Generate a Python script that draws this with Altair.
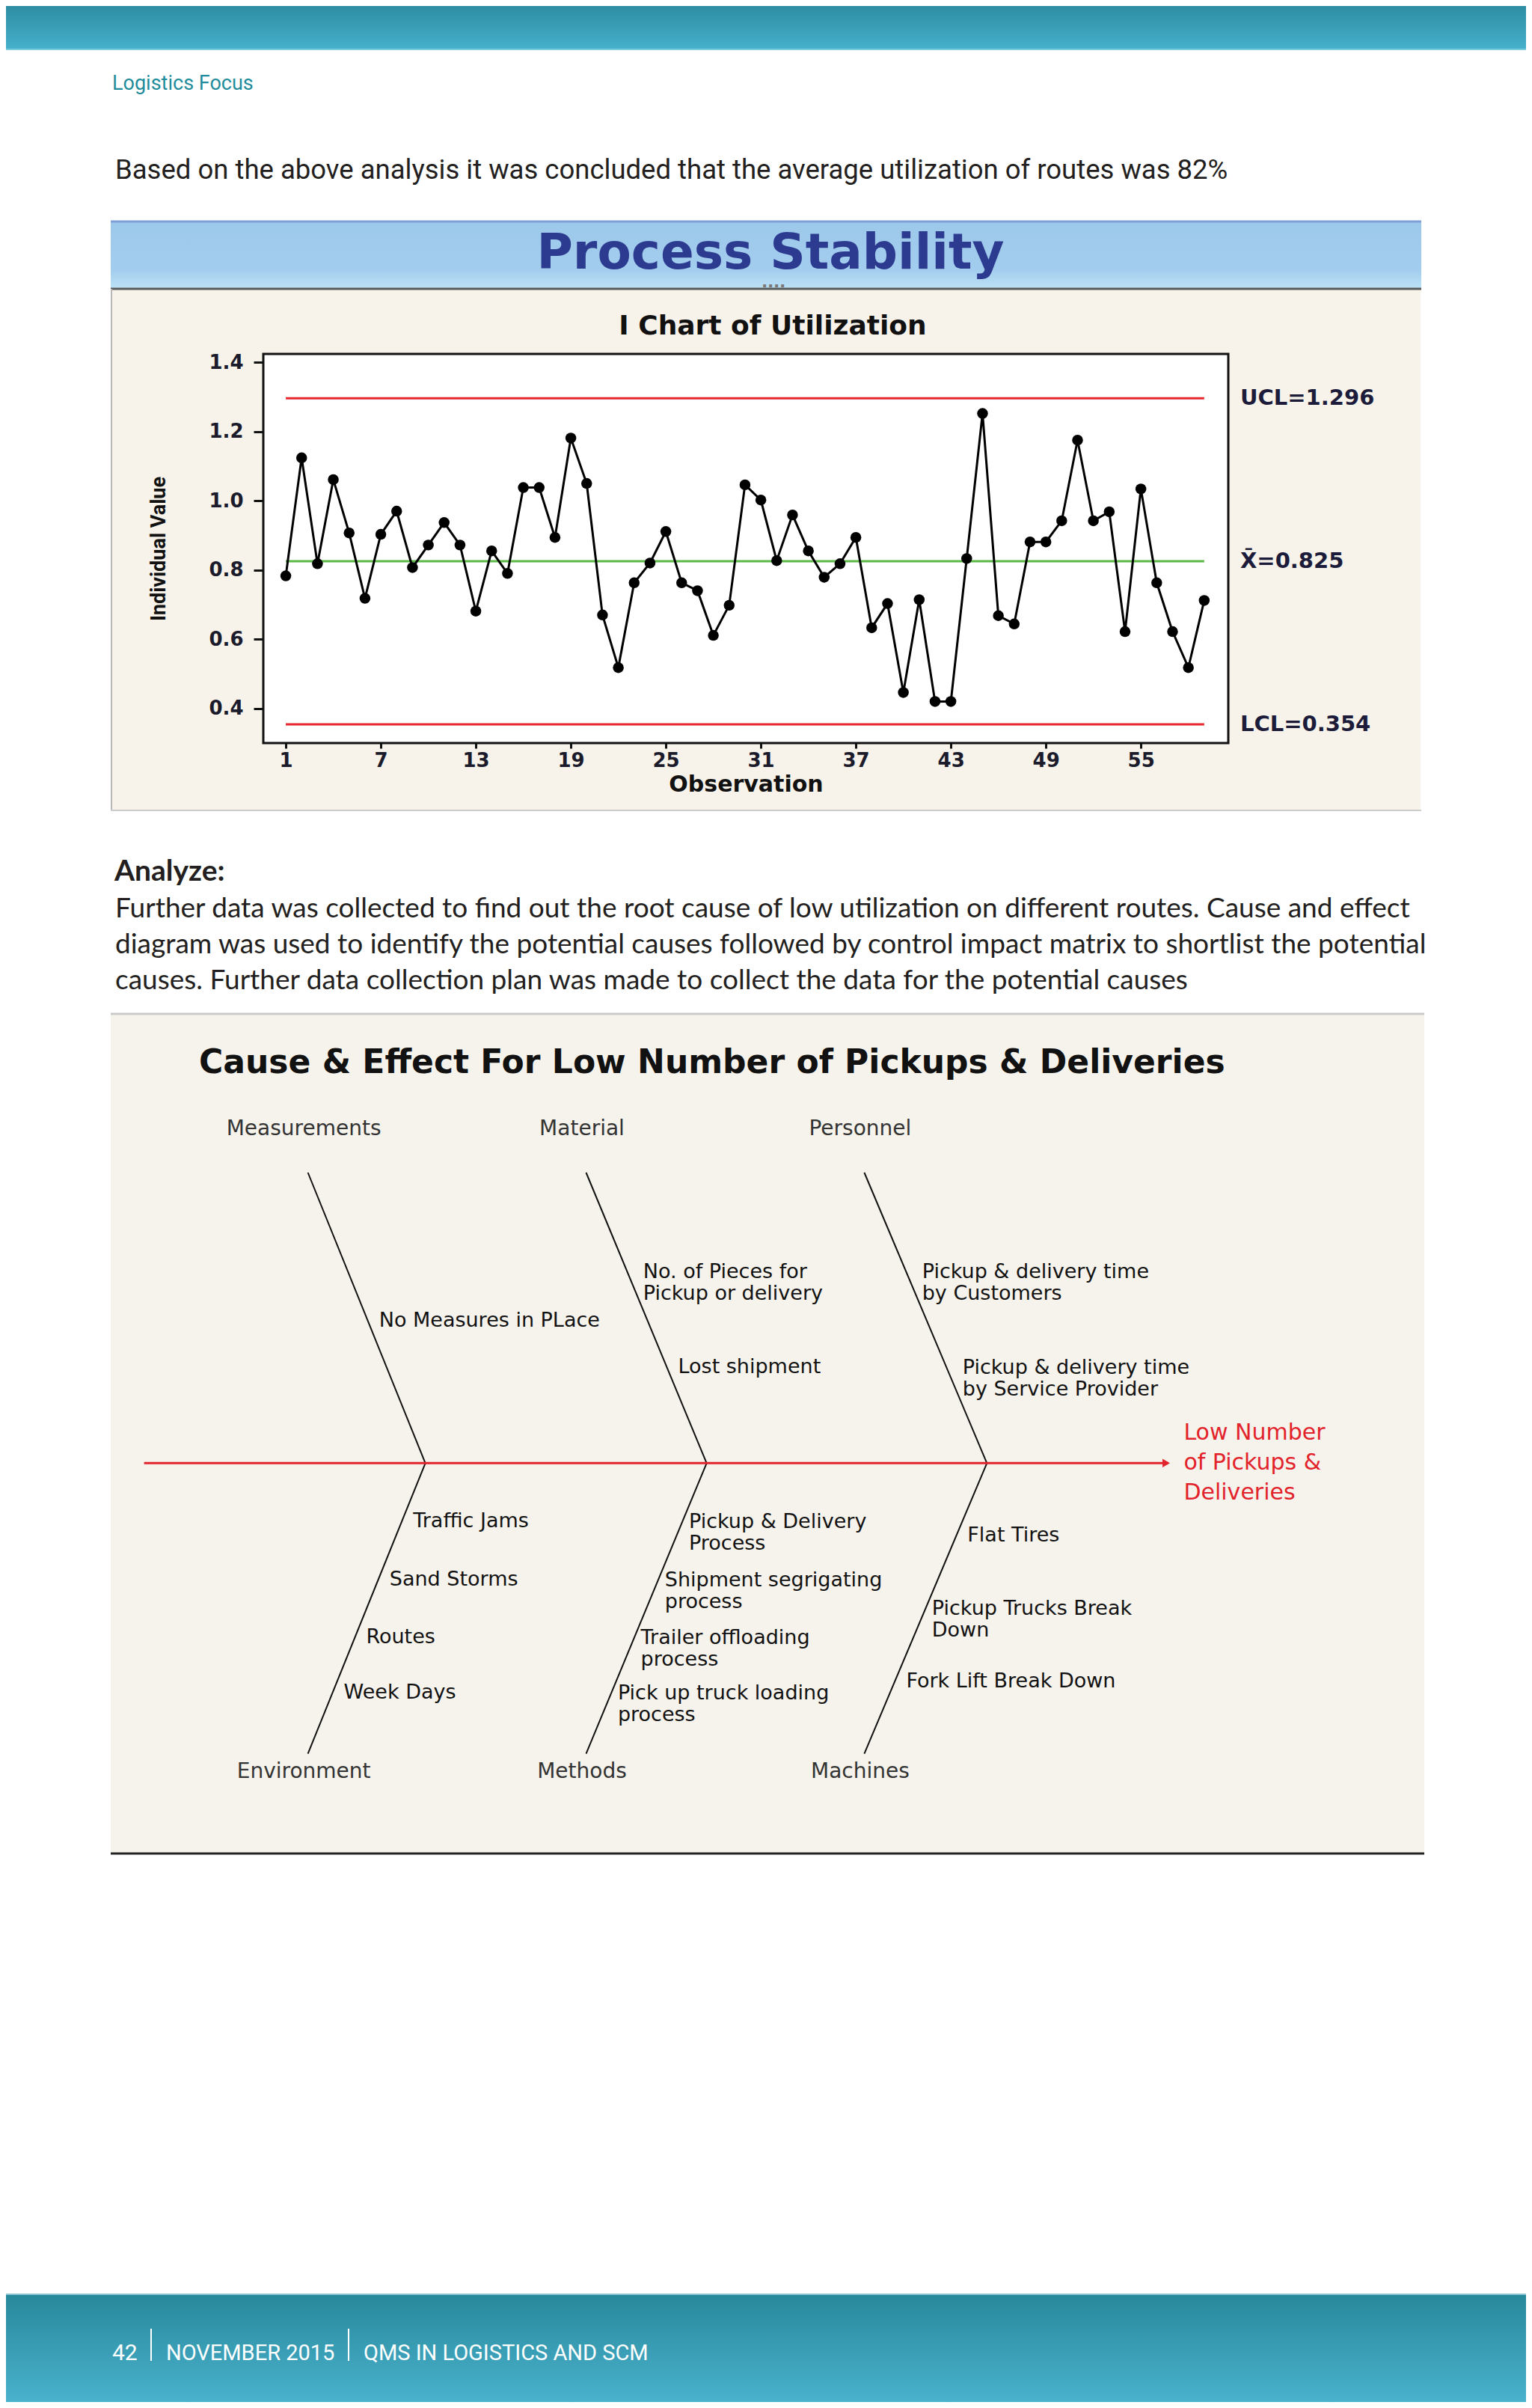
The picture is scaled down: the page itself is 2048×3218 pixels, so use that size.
import altair as alt
import pandas as pd

# ---------------- chart data ----------------
observation = list(range(1, 60))
utilization = [0.783, 1.124, 0.818, 1.061, 0.907, 0.718, 0.903, 0.970, 0.807, 0.872,
               0.937, 0.872, 0.681, 0.855, 0.790, 1.038, 1.038, 0.894, 1.181, 1.050,
               0.670, 0.518, 0.763, 0.820, 0.911, 0.763, 0.740, 0.611, 0.698, 1.046,
               1.002, 0.827, 0.959, 0.855, 0.779, 0.818, 0.894, 0.633, 0.703, 0.446,
               0.714, 0.420, 0.420, 0.833, 1.252, 0.668, 0.644, 0.881, 0.881, 0.942,
               1.175, 0.942, 0.968, 0.622, 1.034, 0.763, 0.622, 0.518, 0.712]
x_tick_values = [1, 7, 13, 19, 25, 31, 37, 43, 49, 55]
y_tick_values = [0.4, 0.6, 0.8, 1.0, 1.2, 1.4]
limit_labels = ["UCL=1.296", "X\u0304=0.825", "LCL=0.354"]
limit_values = [1.296, 0.825, 0.354]
limit_kind = ["control", "center", "control"]
x_domain = [-0.42, 60.52]
y_domain = [0.30, 1.424]

fish_top = ["Measurements", "Material", "Personnel"]
fish_bottom = ["Environment", "Methods", "Machines"]
causes = {
    "Measurements": ["No Measures in PLace"],
    "Material": ["No. of Pieces for\nPickup or delivery", "Lost shipment"],
    "Personnel": ["Pickup & delivery time\nby Customers",
                  "Pickup & delivery time\nby Service Provider"],
    "Environment": ["Traffic Jams", "Sand Storms", "Routes", "Week Days"],
    "Methods": ["Pickup & Delivery\nProcess", "Shipment segrigating\nprocess",
                "Trailer offloading\nprocess", "Pick up truck loading\nprocess"],
    "Machines": ["Flat Tires", "Pickup Trucks Break\nDown", "Fork Lift Break Down"],
}
effect_label = "Low Number\nof Pickups &\nDeliveries"

# ---------------- layout (diagram units / page pixels) ----------------
bone_joint = [27.3, 54.6, 81.8]     # where bones meet the spine (spine runs 0..100)
bone_tip = [15.9, 42.9, 69.9]       # x of the far end of each bone (at y = +/-1)
cause_depth = {
    "Measurements": [0.49],
    "Material": [0.62, 0.33],
    "Personnel": [0.62, 0.29],
    "Environment": [0.20, 0.40, 0.60, 0.79],
    "Methods": [0.24, 0.44, 0.64, 0.83],
    "Machines": [0.25, 0.54, 0.75],
}
PX_PER_UNIT = 388.3   # vertical pixels per diagram unit
CAUSE_LH = 29
EFFECT_LH = 40

W, H = 2032, 3202
M = 8


def P(v):
    return v - M


ONE = pd.DataFrame({"k": [0]})
NARROW = "Roboto, 'Liberation Sans Narrow', sans-serif"
BODY = "Lato, 'Open Sans', sans-serif"
DV = "DejaVu Sans"


def text_at(s, x, y, size, color="#000000", font=DV, weight="normal", align="left",
            baseline="alphabetic", angle=None):
    kw = dict(text=s, fontSize=size, color=color, font=font, fontWeight=weight,
              align=align, baseline=baseline)
    if angle is not None:
        kw["angle"] = angle
    return alt.Chart(ONE).mark_text(**kw).encode(x=alt.value(P(x)), y=alt.value(P(y)))


def box(x1, y1, x2, y2, fill):
    return alt.Chart(ONE).mark_rect(fill=fill, strokeWidth=0).encode(
        x=alt.value(P(x1)), x2=alt.value(P(x2)), y=alt.value(P(y1)), y2=alt.value(P(y2)))


def hrule(x1, x2, y, color, w):
    return alt.Chart(ONE).mark_rule(color=color, strokeWidth=w).encode(
        x=alt.value(P(x1)), x2=alt.value(P(x2)), y=alt.value(P(y)))


def vrule(x, y1, y2, color, w):
    return alt.Chart(ONE).mark_rule(color=color, strokeWidth=w).encode(
        x=alt.value(P(x)), y=alt.value(P(y1)), y2=alt.value(P(y2)))


def vgrad(c1, c2, mid=None):
    stops = [alt.GradientStop(color=c1, offset=0)]
    if mid:
        stops.append(alt.GradientStop(color=mid[0], offset=mid[1]))
    stops.append(alt.GradientStop(color=c2, offset=1))
    return alt.LinearGradient(gradient="linear", stops=stops, x1=0, x2=0, y1=0, y2=1)


layers = []

# header band and page texts
layers.append(box(0, 0, 2048, 66, vgrad("#2a899c", "#46b0cc")))
layers.append(hrule(0, 2048, 66, "#7ccbe0", 2))
layers.append(text_at("Logistics Focus", 150, 120, 27, "#1f8c9c", NARROW))
layers.append(text_at("Based on the above analysis it was concluded that the average utilization of routes was 82%",
                      154, 239, 36.5, "#231f20", NARROW))

# process stability panel
layers.append(box(148, 295, 1900, 386, vgrad("#9cc8ea", "#bce2f6", ("#a3cdee", 0.72))))
layers.append(hrule(148, 1900, 296, "#7f9fd6", 3))
layers.append(box(148, 387, 1899, 1083, "#f7f3ea"))
layers.append(hrule(148, 1900, 386, "#5a5a5a", 3))
layers.append(vrule(149, 386, 1083, "#b8b8b8", 2))
layers.append(hrule(148, 1900, 1083, "#cccccc", 2))
layers.append(text_at("Process Stability", 1030, 359, 66, "#2c3b8f", DV, "bold", "center", "alphabetic"))
layers.append(text_at("\u25aa \u25aa \u25aa \u25aa", 1034, 382, 8, "#7a7a7a", DV, "normal", "center", "middle"))
layers.append(text_at("I Chart of Utilization", 1033, 436, 36, "#111111", DV, "bold", "center", "middle"))

# ---------------- I chart ----------------
XS = alt.Scale(domain=x_domain, range=[P(352), P(1642)], nice=False, zero=False)
YS = alt.Scale(domain=y_domain, range=[P(993), P(473)], nice=False, zero=False)
XAX = alt.Axis(orient="bottom", offset=P(993) - H, values=x_tick_values, title="Observation",
               domain=False, grid=False, tickSize=7, tickWidth=3, tickColor="#111111",
               labelFont=DV, labelFontSize=26, labelFontWeight="bold", labelColor="#1b1b2b",
               labelPadding=3, titleFont=DV, titleFontSize=30, titleFontWeight="bold",
               titleColor="#111111", titleY=55, titleBaseline="middle", zindex=1)
YAX = alt.Axis(orient="left", offset=-P(352), values=y_tick_values, format=".1f",
               title="Individual Value", domain=False, grid=False, tickSize=13, tickWidth=3,
               tickColor="#111111", labelFont=DV, labelFontSize=26, labelFontWeight="bold",
               labelColor="#1b1b2b", labelPadding=14, titleFont="Roboto", titleFontSize=27,
               titleFontWeight="bold", titleColor="#111111", titleX=-140,
               titleBaseline="middle", zindex=1)

frame_df = pd.DataFrame({"obs": [x_domain[0]], "obs2": [x_domain[1]],
                         "val": [y_domain[0]], "val2": [y_domain[1]]})
limits_df = pd.DataFrame({"obs": [observation[0]] * 3, "obs2": [observation[-1]] * 3,
                          "val": limit_values, "label": limit_labels, "kind": limit_kind})
series_df = pd.DataFrame({"obs": observation, "val": utilization})

xe = alt.X("obs:Q", scale=XS, axis=XAX)
ye = alt.Y("val:Q", scale=YS, axis=YAX)

frame = alt.Chart(frame_df).mark_rect(fill="white", stroke="#111111", strokeWidth=3).encode(
    x=xe, x2="obs2:Q", y=ye, y2="val2:Q")
limit_lines = alt.Chart(limits_df).mark_rule(strokeWidth=3).encode(
    x=xe, x2="obs2:Q", y=ye,
    color=alt.Color("kind:N", scale=alt.Scale(domain=["control", "center"],
                                              range=["#e8262c", "#5cb947"]), legend=None))
limit_text = alt.Chart(limits_df).mark_text(align="left", baseline="middle", font=DV,
                                            fontSize=29, fontWeight="bold", color="#1c1c3a").encode(
    x=alt.value(P(1658)), y=ye, text="label:N")
line = alt.Chart(series_df).mark_line(color="#000000", strokeWidth=3).encode(x=xe, y=ye)
pts = alt.Chart(series_df).mark_point(filled=True, color="#000000", size=210, opacity=1).encode(x=xe, y=ye)
ichart = alt.layer(frame, limit_lines, line, pts, limit_text)
layers.append(ichart)

# analyze text
layers.append(text_at("Analyze:", 153, 1177, 39, "#231f20", BODY, "bold"))
para = ["Further data was collected to find out the root cause of low utilization on different routes. Cause and effect",
        "diagram was used to identify the potential causes followed by control impact matrix to shortlist the potential",
        "causes. Further data collection plan was made to collect the data for the potential causes"]
for i, line_txt in enumerate(para):
    layers.append(text_at(line_txt, 154, 1226 + 48 * i, 37, "#231f20", BODY))

# fishbone panel
layers.append(hrule(148, 1904, 1355, "#c9c9c9", 3))
layers.append(box(148, 1357, 1904, 2477, "#f6f3ec"))
layers.append(hrule(148, 1904, 2477, "#222222", 3))
layers.append(text_at("Cause & Effect For Low Number of Pickups & Deliveries", 266, 1434, 44,
                      "#111111", DV, "bold"))

FX = alt.Scale(domain=[0, 100], range=[P(192.6), P(1570)], nice=False, zero=False)
FY = alt.Scale(domain=[-1, 1], range=[P(2343.6), P(1567)], nice=False, zero=False)
fx = alt.X("x:Q", scale=FX, axis=None)
fy = alt.Y("y:Q", scale=FY, axis=None)

bone_rows, cat_rows, cause_rows = [], [], []
for side, names in ((1, fish_top), (-1, fish_bottom)):
    for i, name in enumerate(names):
        bone_rows.append({"x": bone_joint[i], "y": 0, "x2": bone_tip[i], "y2": side})
        cat_rows.append({"x": bone_tip[i] - 0.4, "y": 1.15 if side > 0 else -1.064, "t": name})
        for c, d in zip(causes[name], cause_depth[name]):
            n_lines = c.count("\n") + 1
            lift = (n_lines - 1) * CAUSE_LH / 2 / PX_PER_UNIT
            cause_rows.append({"x": bone_joint[i] - (bone_joint[i] - bone_tip[i]) * d,
                               "y": side * d + lift, "t": c})

effect_lift = (effect_label.count("\n")) * EFFECT_LH / 2 / PX_PER_UNIT

bones = alt.Chart(pd.DataFrame(bone_rows)).mark_rule(color="#111111", strokeWidth=2).encode(
    x=fx, y=fy, x2="x2:Q", y2="y2:Q")
spine = alt.Chart(pd.DataFrame({"x": [0], "y": [0], "x2": [99.4]})).mark_rule(
    color="#e3232b", strokeWidth=3).encode(x=fx, y=fy, x2="x2:Q")
arrow = alt.Chart(pd.DataFrame({"x": [99.2], "y": [0]})).mark_point(
    shape="triangle-right", filled=True, size=130, color="#e3232b", opacity=1).encode(x=fx, y=fy)
cats = alt.Chart(pd.DataFrame(cat_rows)).mark_text(
    align="center", baseline="middle", font=DV, fontSize=28, color="#333333").encode(
    x=fx, y=fy, text="t:N")
cause_txt = alt.Chart(pd.DataFrame(cause_rows)).mark_text(
    align="left", baseline="middle", font=DV, fontSize=27, color="#111111", dx=15,
    lineBreak="\n", lineHeight=CAUSE_LH).encode(x=fx, y=fy, text="t:N")
effect = alt.Chart(pd.DataFrame({"x": [100.9], "y": [effect_lift], "t": [effect_label]})).mark_text(
    align="left", baseline="middle", font=DV, fontSize=30, color="#e3232b",
    lineBreak="\n", lineHeight=EFFECT_LH).encode(x=fx, y=fy, text="t:N")
fish = alt.layer(bones, spine, arrow, cats, cause_txt, effect)
layers.append(fish)

# footer band
layers.append(box(0, 3065, 2048, 3218, vgrad("#28889b", "#4bb4cf")))
layers.append(hrule(0, 2048, 3066, "#8cc7d3", 2))
layers.append(text_at("42", 150, 3154, 30, "#ffffff", NARROW))
layers.append(vrule(202, 3112, 3155, "#ffffff", 2))
layers.append(text_at("NOVEMBER 2015", 222, 3154, 29, "#ffffff", NARROW))
layers.append(vrule(466, 3112, 3155, "#ffffff", 2))
layers.append(text_at("QMS IN LOGISTICS AND SCM", 486, 3154, 29, "#ffffff", NARROW))

chart = alt.layer(*layers).resolve_scale(x="independent", y="independent").properties(
    width=W, height=H, padding=0, autosize=alt.AutoSizeParams(type="none"),
    background="#ffffff").configure_view(stroke=None)

chart.save("out.html", embed_options={"renderer": "svg", "actions": False})
